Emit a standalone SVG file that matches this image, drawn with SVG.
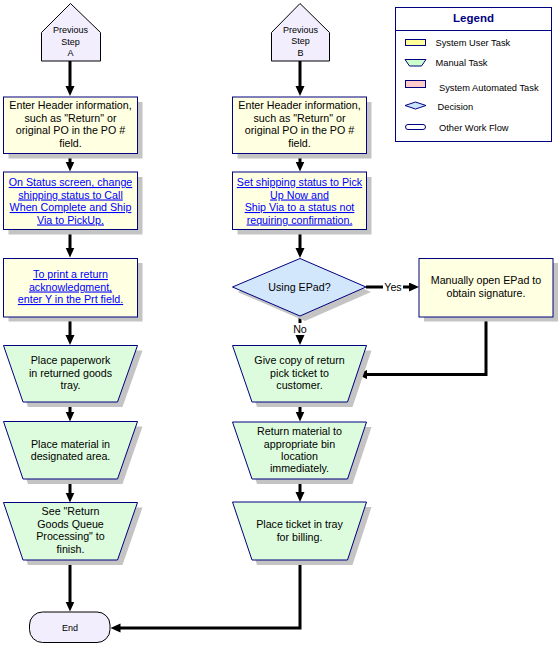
<svg xmlns="http://www.w3.org/2000/svg" width="560" height="646" viewBox="0 0 560 646">
<style>
text{font-family:"Liberation Sans",Arial,sans-serif;font-size:10.7px;fill:#000;text-anchor:middle}
.sys{fill:#ffffe1;stroke:#000080;stroke-width:1}
.man{fill:#ddfcdd;stroke:#000080;stroke-width:1}
.dec{fill:#d2e6fc;stroke:#000080;stroke-width:1}
.ext{fill:#f2eefd;stroke:#000;stroke-width:1}
.sh{fill:#c4c4c4}
.lnk{fill:#0000ff;text-decoration:underline}
.sm{font-size:9px}
.lg{font-size:9.3px;text-anchor:start}
.con{fill:none;stroke:#000;stroke-width:3}
.lbl{fill:#fff}
</style>
<defs>
<marker id="arr" markerUnits="userSpaceOnUse" markerWidth="10" markerHeight="10" refX="2" refY="4.5" orient="auto">
<path d="M0,0 L10,4.5 L0,9 z" fill="#000"/>
</marker>
</defs>
<rect width="560" height="646" fill="#fff"/>

<g id="connectors">
<path class="con" d="M70,61 V88" marker-end="url(#arr)"/>
<path class="con" d="M70,154 V163.5" marker-end="url(#arr)"/>
<path class="con" d="M70,230 V249.5" marker-end="url(#arr)"/>
<path class="con" d="M70,317 V337" marker-end="url(#arr)"/>
<path class="con" d="M70,402 V413.5" marker-end="url(#arr)"/>
<path class="con" d="M70,479 V494.5" marker-end="url(#arr)"/>
<path class="con" d="M70,560 V603.5" marker-end="url(#arr)"/>
<path class="con" d="M300,61 V88" marker-end="url(#arr)"/>
<path class="con" d="M300,154 V163.5" marker-end="url(#arr)"/>
<path class="con" d="M300,230 V250" marker-end="url(#arr)"/>
<path class="con" d="M300,316 V337" marker-end="url(#arr)"/>
<path class="con" d="M366,287 H411" marker-end="url(#arr)"/>
<path class="con" d="M486,317 V374.5 H365" marker-end="url(#arr)"/>
<path class="con" d="M300,402 V413.5" marker-end="url(#arr)"/>
<path class="con" d="M300,479 V494" marker-end="url(#arr)"/>
<path class="con" d="M300,560 V628 H118.5" marker-end="url(#arr)"/>
<rect class="lbl" x="383" y="280" width="20" height="13"/>
<text x="393" y="290.5">Yes</text>
<rect class="lbl" x="291" y="323" width="18" height="12"/>
<text x="300" y="333">No</text>
</g>

<g id="prevA">
<polygon class="ext" points="70.5,3.5 100.5,32.5 100.5,61 41.5,61 41.5,32.5"/>
<text class="sm" x="70.5" y="33">Previous</text>
<text class="sm" x="70.5" y="44.5">Step</text>
<text class="sm" x="70.5" y="55.5">A</text>
</g>

<g id="a1">
<rect class="sh" x="8.5" y="102" width="134" height="56.5"/>
<rect class="sys" x="3.5" y="97" width="134" height="56.5"/>
<text x="70.5" y="109">Enter Header information,</text>
<text x="70.5" y="121.6">such as "Return" or</text>
<text x="70.5" y="134.2">original PO in the PO # </text>
<text x="70.5" y="147">field.</text>
</g>

<g id="a2">
<rect class="sh" x="8.5" y="177" width="134" height="57.5"/>
<rect class="sys" x="3.5" y="172" width="134" height="57.5"/>
<text class="lnk" x="70.5" y="186">On Status screen, change</text>
<text class="lnk" x="70.5" y="198.5">shipping status to Call</text>
<text class="lnk" x="70.5" y="211">When Complete and Ship </text>
<text class="lnk" x="70.5" y="223.5">Via to PickUp.</text>
</g>

<g id="a3">
<rect class="sh" x="8.5" y="263" width="134" height="58.5"/>
<rect class="sys" x="3.5" y="258.5" width="134" height="58.5"/>
<text class="lnk" x="70.5" y="278">To print a return</text>
<text class="lnk" x="70.5" y="290.5">acknowledgment,</text>
<text class="lnk" x="70.5" y="303">enter Y in the Prt field.</text>
</g>

<g id="a4">
<polygon class="sh" points="8.5,350.5 142.5,350.5 122.5,407 28,407"/>
<polygon class="man" points="3.5,345.5 137.5,345.5 117.5,402 23,402"/>
<text x="70.5" y="364">Place paperwork</text>
<text x="70.5" y="376.5">in returned goods</text>
<text x="70.5" y="389">tray.</text>
</g>

<g id="a5">
<polygon class="sh" points="8.5,426.5 142.5,426.5 122.5,484 28,484"/>
<polygon class="man" points="3.5,421.5 137.5,421.5 117.5,479 23,479"/>
<text x="70.5" y="447.5">Place material in</text>
<text x="70.5" y="459.5">designated area.</text>
</g>

<g id="a6">
<polygon class="sh" points="8.5,507.5 142.5,507.5 122.5,565 28,565"/>
<polygon class="man" points="3.5,502.5 137.5,502.5 117.5,560 23,560"/>
<text x="70.5" y="515">See "Return</text>
<text x="70.5" y="527.5">Goods Queue</text>
<text x="70.5" y="540">Processing" to</text>
<text x="70.5" y="552.5">finish.</text>
</g>

<g id="end">
<rect class="ext" x="29.5" y="612" width="80.5" height="30.5" rx="13"/>
<text class="sm" x="70" y="630.5">End</text>
</g>

<g id="prevB">
<polygon class="ext" points="300,3.5 329.5,32.5 329.5,61 271.5,61 271.5,32.5"/>
<text class="sm" x="300.5" y="33">Previous</text>
<text class="sm" x="300.5" y="44">Step</text>
<text class="sm" x="300.5" y="55.5">B</text>
</g>

<g id="b1">
<rect class="sh" x="237.5" y="102" width="134" height="56.5"/>
<rect class="sys" x="232.5" y="97" width="134" height="56.5"/>
<text x="299.5" y="109">Enter Header information,</text>
<text x="299.5" y="121.6">such as "Return" or</text>
<text x="299.5" y="134.2">original PO in the PO # </text>
<text x="299.5" y="147">field.</text>
</g>

<g id="b2">
<rect class="sh" x="237.5" y="177" width="134" height="57.5"/>
<rect class="sys" x="232.5" y="172" width="134" height="57.5"/>
<text class="lnk" x="299.5" y="186">Set shipping status to Pick</text>
<text class="lnk" x="299.5" y="198.5">Up Now and</text>
<text class="lnk" x="299.5" y="211">Ship Via to a status not</text>
<text class="lnk" x="299.5" y="223.5">requiring confirmation.</text>
</g>

<g id="decision">
<polygon class="sh" points="237.5,292 305,263 371,292 305,321"/>
<polygon class="dec" points="232.5,287 300,258.5 366,287 300,316"/>
<text x="299.5" y="290.5">Using EPad?</text>
</g>

<g id="manual-epad">
<rect class="sh" x="424" y="263" width="134" height="58.5"/>
<rect class="sys" x="419" y="258.5" width="134" height="58.5"/>
<text x="486" y="284">Manually open EPad to</text>
<text x="486" y="296.5">obtain signature.</text>
</g>

<g id="b3">
<polygon class="sh" points="237.5,350.5 371.5,350.5 352.5,407 257,407"/>
<polygon class="man" points="232.5,345.5 366.5,345.5 347.5,402 252,402"/>
<text x="299.5" y="364">Give copy of return</text>
<text x="299.5" y="376.5">pick ticket to</text>
<text x="299.5" y="389">customer.</text>
</g>

<g id="b4">
<polygon class="sh" points="237.5,427 371.5,427 352.5,484 257,484"/>
<polygon class="man" points="232.5,422 366.5,422 347.5,479 252,479"/>
<text x="299.5" y="435">Return material to</text>
<text x="299.5" y="447.5">appropriate bin</text>
<text x="299.5" y="459.5">location</text>
<text x="299.5" y="472">immediately.</text>
</g>

<g id="b5">
<polygon class="sh" points="237.5,507 371.5,507 352.5,565 257,565"/>
<polygon class="man" points="232.5,502 366.5,502 347.5,560 252,560"/>
<text x="299.5" y="528">Place ticket in tray</text>
<text x="299.5" y="540.5">for billing.</text>
</g>

<g id="legend">
<rect x="395.5" y="7.5" width="156" height="134" fill="#fff" stroke="#000080"/>
<line x1="395.5" y1="30.5" x2="551.5" y2="30.5" stroke="#000080"/>
<text x="473.5" y="22" style="font-size:11.5px;font-weight:bold;fill:#000080">Legend</text>
<rect x="405.5" y="39.5" width="20" height="6" fill="#ffff99" stroke="#000080"/>
<text class="lg" x="435.5" y="45.5">System User Task</text>
<polygon points="405,59.5 426,59.5 421.5,66 409.5,66" fill="#ccffcc" stroke="#000080"/>
<text class="lg" x="435.5" y="65.5">Manual Task</text>
<rect x="405.5" y="80.5" width="20" height="7" fill="#ffcccc" stroke="#000080"/>
<text class="lg" x="439" y="90.5">System Automated Task</text>
<polygon points="405,105.5 415.5,102 426,105.5 415.5,109" fill="#cce5ff" stroke="#000080"/>
<text class="lg" x="437.5" y="109.5">Decision</text>
<rect x="405.5" y="124.5" width="20" height="5" rx="2.5" fill="#fff" stroke="#000080"/>
<text class="lg" x="439" y="130.5">Other Work Flow</text>
</g>
</svg>
